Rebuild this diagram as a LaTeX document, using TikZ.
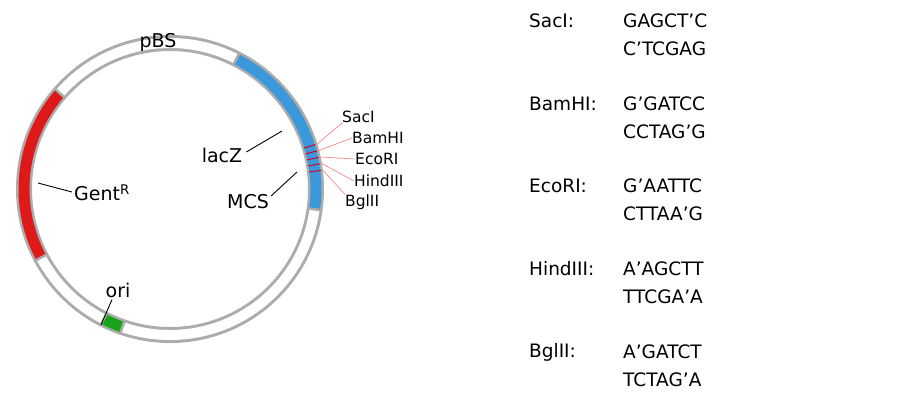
\documentclass[tikz,border=0pt]{standalone}
\usepackage{fontspec}
\setmainfont{DejaVu Sans}
\begin{document}
\begin{tikzpicture}[x=1pt,y=-1pt,
  lbl/.style={font=\fontsize{19}{21}\selectfont, inner sep=0pt},
  sm/.style={font=\fontsize{15.5}{17}\selectfont, inner sep=0pt, anchor=west},
  tb/.style={font=\fontsize{18.5}{20}\selectfont, inner sep=0pt, anchor=west},
  lead/.style={black, line width=0.9pt},
  pink/.style={red!30!pink, line width=0.7pt}]
\useasboundingbox (0,0) rectangle (897,408);
\def\cx{170}\def\cy{189}
\coordinate (c) at (\cx,\cy);
% ring
\draw[gray!65, line width=16pt] (c) circle[radius=146];
\draw[white, line width=10pt] (c) circle[radius=146];
% features
\draw[cyan!70!blue!80, line width=11pt] ([shift={(-63:146)}]c) arc[start angle=-63, end angle=8, radius=146];
\draw[red!85!black!90, line width=11pt] ([shift={(-139:146)}]c) arc[start angle=-139, end angle=-208, radius=146];
\draw[green!60!black!90, line width=11pt] ([shift={(-243:146)}]c) arc[start angle=-243, end angle=-251, radius=146];
% cut separators
\foreach \a in {-63,8,-139,-208,-243,-251}
  \draw[gray!65, line width=2.5pt] ([shift={(\a:139)}]c) -- ([shift={(\a:153)}]c);
% MCS lines
\foreach \a in {-17,-14.5,-12,-9.5,-7}
  \draw[purple!70!red, line width=1pt] ([shift={(\a:140)}]c) -- ([shift={(\a:152)}]c);
% labels right of MCS
\node[sm] (sac) at (342,117) {SacI};
\node[sm] (bam) at (352,138) {BamHI};
\node[sm] (eco) at (355,159) {EcoRI};
\node[sm] (hin) at (354,181) {HindIII};
\node[sm] (bgl) at (345,202) {BglII};
\coordinate (p1) at ([shift={(-17:154)}]c);
\coordinate (p2) at ([shift={(-14.5:154)}]c);
\coordinate (p3) at ([shift={(-12:154)}]c);
\coordinate (p4) at ([shift={(-9.5:154)}]c);
\coordinate (p5) at ([shift={(-7:154)}]c);
\draw[pink] (p1) -- (sac.south west);
\draw[pink] (p2) -- (bam.west);
\draw[pink] (p3) -- (eco.west);
\draw[pink] (p4) -- (hin.west);
\draw[pink] (p5) -- (bgl.north west);
% other labels
\node[lbl] (pbs) at (158,42) {pBS};
\node[lbl] (lacz) at (222,155) {lacZ};
\coordinate (lz) at (282,131);
\draw[lead] (lacz.east) ++(4,-3) -- (lz);
\node[lbl] (mcs) at (248,202) {MCS};
\coordinate (mc) at (297,172);
\draw[lead] (mcs.east) ++(2,-6) -- (mc);
\node[lbl] (gent) at (102,193) {Gent\textsuperscript{R}};
\coordinate (gp) at (38,183);
\draw[lead] (gent.west) ++(-2,-1) -- (gp);
\node[lbl] (ori) at (118,290) {ori};
\coordinate (op) at (101,325);
\draw[lead] (ori.south) ++(-6,2) -- (op);
% table
\foreach \n/\y/\s/\t in {SacI:/21/GAGCT'C/C'TCGAG, BamHI:/104/G'GATCC/CCTAG'G, EcoRI:/186/G'AATTC/CTTAA'G, HindIII:/269/A'AGCTT/TTCGA'A, BglII:/352/A'GATCT/TCTAG'A}{
  \node[tb] (n\y) at (529,\y) {\n};
  \node[tb] (s\y) at (623,\y) {\s};
  \node[tb] (t\y) at (623,\y+28) {\t};
}
\end{tikzpicture}
\end{document}
